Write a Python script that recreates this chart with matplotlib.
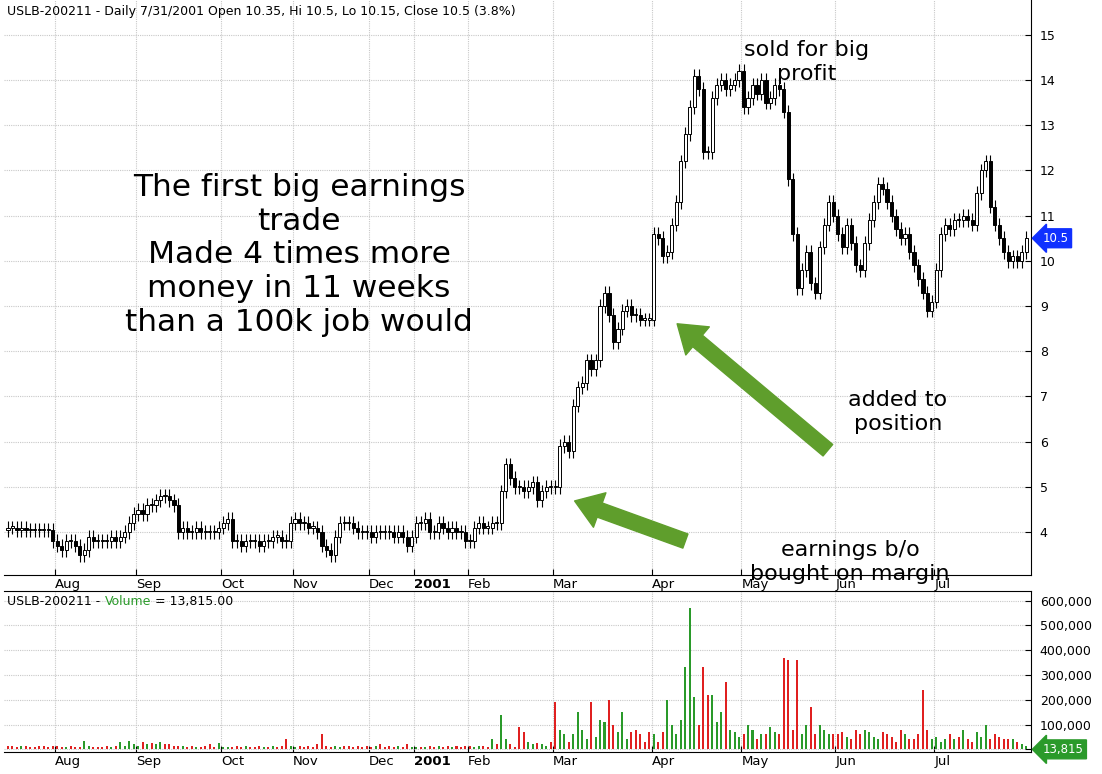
import matplotlib
matplotlib.use("Agg")
import matplotlib.pyplot as plt
import numpy as np

months = ["Aug", "Sep", "Oct", "Nov", "Dec", "2001", "Feb", "Mar", "Apr", "May", "Jun", "Jul"]
close_jul00 = [4.1,4.1,4.05,4.1,4.05,4.05,4.05,4.05,4.05,4.05,3.8]
close_aug = [3.7,3.6,3.8,3.8,3.7,3.5,3.6,3.9,3.8,3.8,3.8,3.8,3.9,3.8,3.9,4.0,4.2,4.4]
close_sep = [4.5,4.4,4.6,4.6,4.7,4.8,4.8,4.7,4.6,4.0,4.1,4.0,4.0,4.1,4.0,4.0,4.0,4.0,4.1]
close_oct = [4.2,4.3,3.8,3.8,3.7,3.8,3.8,3.8,3.7,3.8,3.8,3.9,3.9,3.8,3.8,4.2]
close_nov = [4.3,4.2,4.2,4.1,4.1,4.0,3.7,3.6,3.5,3.9,4.2,4.2,4.2,4.1,4.0,4.0,4.0]
close_dec = [3.9,4.0,4.0,4.0,4.0,3.9,4.0,3.9,3.7,3.9]
close_jan = [4.2,4.2,4.3,4.0,4.0,4.2,4.1,4.0,4.1,4.0,4.0,3.8]
close_feb = [3.8,4.1,4.2,4.1,4.1,4.2,4.2,4.9,5.5,5.2,5.0,5.0,4.9,5.0,5.1,4.7,4.9,5.0,5.0]
close_mar = [5.0,5.9,6.0,5.8,6.8,7.2,7.3,7.8,7.6,7.8,9.0,9.3,8.8,8.2,8.5,8.9,9.0,8.8,8.8,8.7,8.7,8.7]
close_apr = [10.6,10.5,10.1,10.2,10.8,11.3,12.2,12.8,13.4,14.1,13.8,12.4,12.4,13.6,13.9,14.0,13.8,13.9,14.0,14.2]
close_may = [13.4,13.6,13.9,13.7,14.0,13.5,13.6,13.9,13.8,13.3,11.8,10.6,9.4,9.8,10.2,9.5,9.3,10.3,10.8,11.3,11.0]
close_jun = [10.6,10.3,10.8,10.4,9.9,9.8,10.4,10.9,11.3,11.7,11.6,11.3,11.0,10.7,10.5,10.6,10.2,9.9,9.6,9.3,8.9,9.1]
close_jul = [9.8,10.6,10.8,10.7,10.9,10.9,11.0,10.9,10.8,11.5,12.0,12.2,11.2,10.8,10.5,10.2,10.0,10.1,10.0,10.2,10.5]

vol_jul00 = [12,12,10,12,12,10,10,12,12,10,15]
vol_aug = [12,10,10,12,10,10,35,12,10,8,10,12,10,15,30,12,35,20]
vol_sep = [15,30,20,25,20,30,20,22,15,12,12,10,12,10,10,12,20,10,25]
vol_oct = [10,10,10,12,10,12,10,10,12,10,10,12,10,12,40,15]
vol_nov = [10,12,10,12,10,20,60,15,10,12,10,12,15,10,12,10,12]
vol_dec = [10,12,20,10,12,10,15,10,20,10]
vol_jan = [10,10,10,12,10,12,10,12,10,12,10,15]
vol_feb = [12,10,15,12,10,40,20,140,40,20,10,90,70,30,20,25,20,15,30]
vol_mar = [190,80,60,30,60,150,80,40,190,50,120,110,200,100,70,150,40,70,80,60,30,70]
vol_apr = [60,30,70,200,100,60,120,330,570,210,100,330,220,220,110,150,270,80,70,50]
vol_may = [60,100,80,40,60,60,90,70,60,370,360,80,360,60,100,170,60,100,80,60,60]
vol_jun = [60,70,50,40,80,60,80,70,50,40,70,60,50,30,80,60,40,40,60,240,80,40]
vol_jul = [50,30,40,60,40,50,80,40,30,70,50,100,40,60,50,40,40,40,30,20,14]

closes_m = [close_jul00, close_aug, close_sep, close_oct, close_nov, close_dec, close_jan,
            close_feb, close_mar, close_apr, close_may, close_jun, close_jul]
vols_m = [vol_jul00, vol_aug, vol_sep, vol_oct, vol_nov, vol_dec, vol_jan,
          vol_feb, vol_mar, vol_apr, vol_may, vol_jun, vol_jul]
closes = np.concatenate(closes_m)
vols = np.concatenate(vols_m) * 1000.0
opens = np.concatenate([[4.05], closes[:-1]])
month_starts = np.cumsum([len(m) for m in closes_m])[:-1]
n = len(closes)
x = np.arange(n)

fig = plt.figure(figsize=(11.02, 7.74), dpi=100)
fig.patch.set_facecolor("white")
axp = fig.add_axes([0.004, 0.257, 0.932, 0.743])
axv = fig.add_axes([0.004, 0.028, 0.932, 0.208])
xl = (-0.8, n - 1 + 1.2)
grid_kw = dict(color="#c8c8c8", linestyle=(0, (1, 1)), linewidth=0.8)

for ax in (axp, axv):
    ax.set_xlim(*xl)
    ax.set_facecolor("white")
    ax.yaxis.tick_right()
    ax.tick_params(axis="y", direction="in", length=4, labelsize=9, pad=6)
    ax.tick_params(axis="x", direction="in", length=4, labelsize=9.5, pad=2)
    ax.set_xticks(month_starts - 0.5)
    ax.set_xticklabels(months)
    for lab in ax.get_xticklabels():
        lab.set_ha("left")
        if lab.get_text() == "2001":
            lab.set_fontweight("bold")
    ax.grid(True, **grid_kw)
    ax.set_axisbelow(True)
    ax.spines["left"].set_visible(False)
axp.spines["top"].set_visible(False)

# price candles
axp.set_ylim(3.05, 15.77)
axp.set_yticks(range(4, 16))
hl = 0.15
for i in range(n):
    o, c = opens[i], closes[i]
    lo, hi = min(o, c), max(o, c)
    axp.vlines(i, lo - hl, hi + hl, color="black", linewidth=0.8, zorder=2)
    h = max(hi - lo, 0.03)
    up = c >= o
    axp.bar(i, h, bottom=lo, width=0.7, color="white" if up else "black",
            edgecolor="black", linewidth=0.7, zorder=3)

axp.text(0.003, 0.992, "USLB-200211 - Daily 7/31/2001 Open 10.35, Hi 10.5, Lo 10.15, Close 10.5 (3.8%)",
         transform=axp.transAxes, fontsize=9, va="top", ha="left")
axp.annotate("10.5", xy=(1.0, closes[-1]), xycoords=("axes fraction", "data"),
             xytext=(8, 0), textcoords="offset points", fontsize=8.5, color="white",
             va="center", ha="left",
             bbox=dict(boxstyle="larrow,pad=0.25", fc="#1030ff", ec="#1030ff"))

# volume
axv.set_ylim(-12000, 637000)
axv.set_yticks(np.arange(0, 600001, 100000))
axv.set_yticklabels([f"{int(v):,}" for v in np.arange(0, 600001, 100000)])
prev = np.concatenate([[closes[0]], closes[:-1]])
vcol = ["#2a9a2a" if closes[i] > prev[i] else "#e02020" for i in range(n)]
axv.bar(x, vols, width=0.45, color=vcol, zorder=3)
t1 = axv.text(0.003, 0.975, "USLB-200211 - ", transform=axv.transAxes, fontsize=9, va="top", ha="left")
t2 = axv.annotate("Volume", xycoords=t1, xy=(1, 0), va="bottom", ha="left", fontsize=9, color="#2a9a2a")
axv.annotate(" = 13,815.00", xycoords=t2, xy=(1, 0), va="bottom", ha="left", fontsize=9)
axv.annotate("13,815", xy=(1.0, 0), xycoords=("axes fraction", "data"),
             xytext=(8, 0), textcoords="offset points", fontsize=8.5, color="white",
             va="center", ha="left",
             bbox=dict(boxstyle="larrow,pad=0.25", fc="#2a9a2a", ec="#2a9a2a"))

# annotations (figure pixel coordinates)
W, H = 1102, 774
def ft(px, py, s, size, **kw):
    fig.text(px / W, 1 - py / H, s, fontsize=size, ha="center", va="center",
             linespacing=1.2, **kw)

ft(299, 255, "The first big earnings\ntrade\nMade 4 times more\nmoney in 11 weeks\nthan a 100k job would", 22.5)
ft(807, 62, "sold for big\nprofit", 16)
ft(898, 412, "added to\nposition", 16)
ft(850, 562, "earnings b/o\nbought on margin", 16)

for (x0, y0, x1, y1) in [(830, 452, 675, 322), (688, 542, 572, 500)]:
    fig.add_artist(matplotlib.patches.FancyArrowPatch(
        (x0 / W, 1 - y0 / H), (x1 / W, 1 - y1 / H), transform=fig.transFigure,
        arrowstyle="simple,head_width=2.2,head_length=1.6,tail_width=0.9",
        mutation_scale=12, color="#5f9e2c", zorder=10))

fig.savefig("out.png", dpi=100)
